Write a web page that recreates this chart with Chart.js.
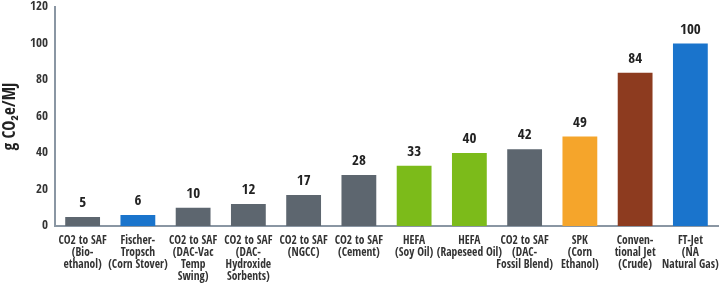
<!DOCTYPE html>
<html>
<head>
<meta charset="utf-8">
<script src="https://cdn.jsdelivr.net/npm/chart.js@4"></script>
<style>
    html, body { margin: 0; padding: 0; background: #ffffff; }
    #wrap { position: relative; width: 720px; height: 284px; }
</style>
</head>
<body>
<div id="wrap"><canvas id="ciChart"></canvas></div>
<script>
// Carbon intensity of jet fuel pathways

const categories = [
    ['CO2 to SAF', '(Bio-', 'ethanol)'],
    ['Fischer-', 'Tropsch', '(Corn Stover)'],
    ['CO2 to SAF', '(DAC-Vac', 'Temp', 'Swing)'],
    ['CO2 to SAF', '(DAC-', 'Hydroxide', 'Sorbents)'],
    ['CO2 to SAF', '(NGCC)'],
    ['CO2 to SAF', '(Cement)'],
    ['HEFA', '(Soy Oil)'],
    ['HEFA', '(Rapeseed Oil)'],
    ['CO2 to SAF', '(DAC-', 'Fossil Blend)'],
    ['SPK', '(Corn', 'Ethanol)'],
    ['Conven-', 'tional Jet', '(Crude)'],
    ['FT-Jet', '(NA', 'Natural Gas)']
];
const intensity = [5, 6, 10, 12, 17, 28, 33, 40, 42, 49, 84, 100];
const barColors = ['#5d666f', '#1a74cc', '#5d666f', '#5d666f', '#5d666f', '#5d666f',
    '#7cbb1a', '#7cbb1a', '#5d666f', '#f5a52b', '#8d3b1f', '#1a74cc'];
const yTicks = [0, 20, 40, 60, 80, 100, 120];

const FONT = "'Open Sans Condensed', 'Roboto Condensed', sans-serif";

const valueLabels = {
    id: 'valueLabels',
    afterDatasetsDraw(chart) {
        const ctx = chart.ctx;
        ctx.save();
        ctx.font = 'bold 15px ' + FONT;
        ctx.fillStyle = '#222222';
        ctx.textAlign = 'center';
        ctx.textBaseline = 'alphabetic';
        const meta = chart.getDatasetMeta(0);
        meta.data.forEach((bar, i) => {
            ctx.fillText(intensity[i], bar.x, bar.y - 10);
        });
        ctx.restore();
    }
};

const ctx = document.getElementById('ciChart').getContext('2d');
new Chart(ctx, {
    type: 'bar',
    data: {
        labels: categories,
        datasets: [{
            data: intensity,
            backgroundColor: barColors,
            categoryPercentage: 1,
            barPercentage: 0.63
        }]
    },
    options: {
        responsive: true,
        maintainAspectRatio: false,
        animation: false,
        layout: {
            padding: { top: 7, right: 2, left: 0, bottom: 0 }
        },
        scales: {
            y: {
                min: 0,
                max: 120,
                afterBuildTicks: axis => { axis.ticks = yTicks.map(v => ({ value: v })); },
                afterFit: scale => {
                    scale.width = 55;
                    scale.paddingTop = 0;
                    scale.paddingBottom = 0;
                },
                ticks: {
                    color: '#333333',
                    padding: 7,
                    font: { family: FONT, size: 13, weight: 'bold' }
                },
                grid: { display: false, drawTicks: false },
                border: { display: true, color: '#8a96a3', width: 2 },
                title: {
                    display: true,
                    text: 'g CO\u2082e/MJ',
                    color: '#222222',
                    padding: { top: 0, bottom: 8 },
                    font: { family: FONT, size: 17, weight: 'bold' }
                }
            },
            x: {
                afterFit: scale => {
                    scale.height = 58;
                    scale.paddingLeft = 0;
                    scale.paddingRight = 0;
                },
                ticks: {
                    color: '#333333',
                    padding: 9,
                    maxRotation: 0,
                    autoSkip: false,
                    font: { family: FONT, size: 11.5, weight: 'bold', lineHeight: 1.05 }
                },
                grid: { display: false, drawTicks: false },
                border: { display: true, color: '#8a96a3', width: 2 }
            }
        },
        plugins: {
            legend: { display: false },
            tooltip: { enabled: false }
        }
    },
    plugins: [valueLabels]
});
</script>
</body>
</html>
